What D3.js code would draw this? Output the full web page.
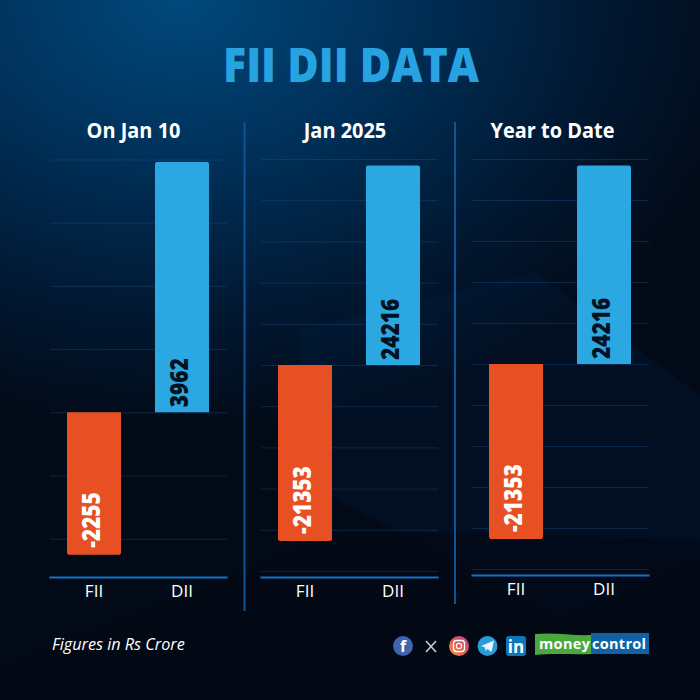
<!DOCTYPE html>
<html>
<head>
<meta charset="utf-8">
<script src="https://cdn.jsdelivr.net/npm/d3@7"></script>
<style>
  html, body { margin: 0; padding: 0; background: #020a18; }
  text { font-family: "Open Sans", sans-serif; }
</style>
</head>
<body>
<script>
// values in Rs crore
var panelTitles = ["On Jan 10", "Jan 2025", "Year to Date"];
var categories = ["FII", "DII"];
var fiiValues = [-2255, -21353, -21353];
var diiValues = [3962, 24216, 24216];
var yTicks = [
  [-2000, -1000, 0, 1000, 2000, 3000, 4000],
  [-25000, -20000, -15000, -10000, -5000, 0, 5000, 10000, 15000, 20000, 25000],
  [-25000, -20000, -15000, -10000, -5000, 0, 5000, 10000, 15000, 20000, 25000]
];
var yMin = [-2606, -25728, -25730];
var yMax = [4000, 25000, 25000];

var size = 700;
var panelLeft = [50, 261, 472];
var panelWidth = 176;
var panelTop = [159.5, 159, 159];
var panelBottom = [577, 577, 575];
var titleCenter = [133.5, 345, 552.5];

var svg = d3.select("body").append("svg")
    .attr("width", size)
    .attr("height", size)
    .style("display", "block");

var defs = svg.append("defs");

var glow = defs.append("radialGradient")
    .attr("id", "glow")
    .attr("gradientUnits", "userSpaceOnUse")
    .attr("cx", 0).attr("cy", 0).attr("r", 1)
    .attr("gradientTransform", "translate(180,0) scale(580,430)");
glow.append("stop").attr("offset", "0").attr("stop-color", "#00497c");
glow.append("stop").attr("offset", "0.35").attr("stop-color", "#00325c");
glow.append("stop").attr("offset", "0.7").attr("stop-color", "#011a35");
glow.append("stop").attr("offset", "1").attr("stop-color", "#020a18");

var insta = defs.append("linearGradient")
    .attr("id", "insta")
    .attr("x1", 0).attr("y1", 1).attr("x2", 1).attr("y2", 0);
insta.append("stop").attr("offset", "0").attr("stop-color", "#f0a04b");
insta.append("stop").attr("offset", "0.5").attr("stop-color", "#e4574f");
insta.append("stop").attr("offset", "1").attr("stop-color", "#b8479c");

svg.append("rect").attr("width", size).attr("height", size).attr("fill", "#020a18");
svg.append("rect").attr("width", size).attr("height", size).attr("fill", "url(#glow)");

// faint shapes in the background
var shapes = [
  { d: "M300 330L535 272L700 395V560L560 620L300 480Z", fill: "#0a3560", o: 0.14 },
  { d: "M0 700V670L350 530L700 540V700Z", fill: "#01060f", o: 0.5 }
];
svg.selectAll("path.bg").data(shapes).enter().append("path")
    .attr("class", "bg")
    .attr("d", function(d) { return d.d; })
    .attr("fill", function(d) { return d.fill; })
    .attr("opacity", function(d) { return d.o; });

svg.append("text")
    .attr("x", 351)
    .attr("y", 82)
    .attr("text-anchor", "middle")
    .attr("font-size", 48)
    .attr("font-weight", 800)
    .attr("textLength", 256)
    .attr("lengthAdjust", "spacingAndGlyphs")
    .attr("fill", "#28a3e2")
    .text("FII DII DATA");

// dividers between the panels
var dividers = [{ x: 244.5, y2: 611 }, { x: 455, y2: 604 }];
svg.selectAll("line.divider").data(dividers).enter().append("line")
    .attr("class", "divider")
    .attr("x1", function(d) { return d.x; })
    .attr("x2", function(d) { return d.x; })
    .attr("y1", 122)
    .attr("y2", function(d) { return d.y2; })
    .attr("stroke", "#0f5596")
    .attr("stroke-width", 2);

// bar with small rounded corners on the end away from zero
function barPath(x, w, y0, y1) {
  var r = 2, s = y1 < y0 ? 1 : -1;
  return "M" + x + "," + y0 +
    "V" + (y1 + s * r) +
    "Q" + x + "," + y1 + " " + (x + r) + "," + y1 +
    "H" + (x + w - r) +
    "Q" + (x + w) + "," + y1 + " " + (x + w) + "," + (y1 + s * r) +
    "V" + y0 + "Z";
}

panelTitles.forEach(function(title, i) {
  var g = svg.append("g").attr("class", "panel");
  var left = panelLeft[i];

  // 176px wide: 54px bars with 34px between and 17px outside
  var x = d3.scaleBand()
      .domain(categories)
      .range([left, left + panelWidth])
      .paddingInner(34 / 88)
      .paddingOuter(17 / 88);

  var y = d3.scaleLinear()
      .domain([yMin[i], yMax[i]])
      .range([panelBottom[i], panelTop[i]]);

  // gridlines
  var grid = g.append("g")
      .attr("transform", "translate(" + left + ",0)")
      .call(d3.axisLeft(y).tickValues(yTicks[i]).tickSize(-panelWidth - 1).tickFormat(""));
  grid.select(".domain").remove();
  grid.selectAll("line")
      .attr("stroke", "#1d5a94")
      .attr("stroke-opacity", 0.35)
      .attr("stroke-width", 1);

  var rows = [
    { cat: categories[0], value: fiiValues[i], fill: "#e75023", text: "#ffffff" },
    { cat: categories[1], value: diiValues[i], fill: "#2ba7e2", text: "#03101f" }
  ];

  g.selectAll("path.bar").data(rows).enter().append("path")
      .attr("class", "bar")
      .attr("fill", function(d) { return d.fill; })
      .attr("d", function(d) {
        return barPath(x(d.cat), x.bandwidth(), y(0), y(d.value));
      });

  // labels read upward, starting near the lower end of the bar
  g.selectAll("text.value").data(rows).enter().append("text")
      .attr("class", "value")
      .attr("transform", function(d) {
        var cx = x(d.cat) + x.bandwidth() / 2 + 6;
        var low = Math.max(y(0), y(d.value));
        var gap = d.value < 0 ? 7 : 5;
        return "translate(" + cx + "," + (low - gap) + ") rotate(-90) scale(0.87,1)";
      })
      .attr("font-size", 24)
      .attr("font-weight", 800)
      .attr("fill", function(d) { return d.text; })
      .text(function(d) { return d.value; });

  // category axis
  var axis = g.append("g")
      .attr("transform", "translate(0," + panelBottom[i] + ")")
      .call(d3.axisBottom(x).tickSize(0).tickPadding(8));
  axis.select(".domain")
      .attr("stroke", "#1273c4")
      .attr("stroke-width", 2.2)
      .attr("stroke-linecap", "square");
  axis.selectAll("text")
      .attr("fill", "#ffffff")
      .attr("font-size", 17)
      .style("font-family", '"Open Sans", sans-serif');

  g.append("text")
      .attr("transform", "translate(" + titleCenter[i] + ",138) scale(0.95,1)")
      .attr("text-anchor", "middle")
      .attr("font-size", 21)
      .attr("font-weight", 700)
      .attr("fill", "#ffffff")
      .text(title);
});

svg.append("text")
    .attr("x", 52)
    .attr("y", 650)
    .attr("font-size", 16.2)
    .attr("font-style", "italic")
    .attr("fill", "#ffffff")
    .text("Figures in Rs Crore");

// social icons
var icons = svg.append("g").attr("class", "icons");
icons.append("circle").attr("cx", 403).attr("cy", 646).attr("r", 10).attr("fill", "#3d64ad");
icons.append("text").attr("x", 403).attr("y", 652).attr("text-anchor", "middle")
    .attr("font-size", 16).attr("font-weight", 700).attr("fill", "#fff").text("f");
icons.append("path").attr("d", "M426 641L436 652M436 641L426 652")
    .attr("stroke", "#c9ccd1").attr("stroke-width", 1.6).attr("fill", "none");
icons.append("circle").attr("cx", 459).attr("cy", 646).attr("r", 10).attr("fill", "url(#insta)");
icons.append("rect").attr("x", 453.5).attr("y", 640.5).attr("width", 11).attr("height", 11).attr("rx", 3)
    .attr("fill", "none").attr("stroke", "#fff").attr("stroke-width", 1.3);
icons.append("circle").attr("cx", 459).attr("cy", 646).attr("r", 2.6)
    .attr("fill", "none").attr("stroke", "#fff").attr("stroke-width", 1.2);
icons.append("circle").attr("cx", 487.5).attr("cy", 646).attr("r", 10).attr("fill", "#2b9bd8");
icons.append("path").attr("d", "M481 646L494 640.5L491.5 652L487.5 649L485.5 651L485 647.5Z").attr("fill", "#e8f4fb");
icons.append("rect").attr("x", 506).attr("y", 636).attr("width", 20).attr("height", 20).attr("rx", 3).attr("fill", "#0d77b7");
icons.append("text").attr("x", 516).attr("y", 653).attr("text-anchor", "middle")
    .attr("font-size", 17).attr("font-weight", 700).attr("fill", "#fff").text("in");

// moneycontrol logo
var logo = svg.append("g").attr("class", "logo");
logo.append("path")
    .attr("d", "M535 634C555 632 572 636 592 635L592 654C572 655 555 653 535 655Z")
    .attr("fill", "#4aa83f");
logo.append("rect").attr("x", 591).attr("y", 633).attr("width", 58).attr("height", 21).attr("fill", "#0f62a8");
logo.append("text").attr("x", 539).attr("y", 649).attr("font-size", 14.5).attr("font-weight", 700)
    .attr("textLength", 51).attr("fill", "#ffffff").text("money");
logo.append("text").attr("x", 592).attr("y", 649).attr("font-size", 14.5).attr("font-weight", 700)
    .attr("textLength", 54).attr("fill", "#ffffff").text("control");
</script>
</body>
</html>
